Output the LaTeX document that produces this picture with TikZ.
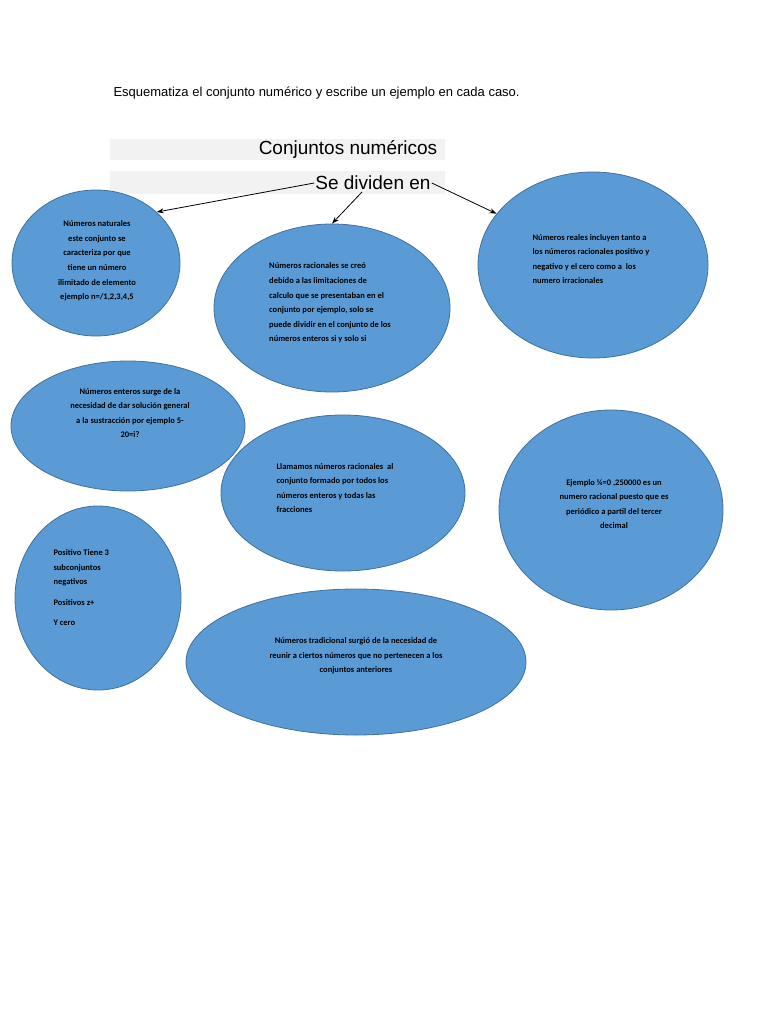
\documentclass[tikz,border=0pt]{standalone}
\usepackage{fontspec}
\setmainfont{Liberation Sans}
\newfontfamily\carfont{Carlito}
\usetikzlibrary{shapes.geometric,arrows.meta}
\definecolor{bub}{HTML}{5B9BD5}
\definecolor{bubd}{HTML}{41719C}
\definecolor{bar}{HTML}{F2F2F2}
\begin{document}
\begin{tikzpicture}[x=1pt,y=-1pt,
  bubble/.style={ellipse,fill=bub,draw=bubd,line width=0.8pt,inner sep=0pt},
  txt/.style={font=\carfont\bfseries\fontsize{8.5}{14.6}\selectfont,align=center},
  arr/.style={-{Stealth[length=7pt,width=5pt]},line width=0.8pt}]
\useasboundingbox (0,0) rectangle (768,1024);
\fill[bar] (110,139) rectangle (445,160);
\fill[bar] (110,171) rectangle (445,194);
\node[anchor=west,font=\fontsize{13}{15}\selectfont] (t) at (110,93) {Esquematiza el conjunto numérico y escribe un ejemplo en cada caso.};
\node[font=\fontsize{19}{21}\selectfont] (c) at (348,149) {Conjuntos numéricos};
\node[font=\fontsize{19}{21}\selectfont,inner sep=1pt] (s) at (373,183) {Se dividen en};

\node[bubble,minimum width=168pt,minimum height=146pt] (e1) at (96,263) {};
\node[bubble,minimum width=236pt,minimum height=168pt] (e2) at (332,308) {};
\node[bubble,minimum width=230pt,minimum height=186pt] (e3) at (593,265) {};
\node[bubble,minimum width=234pt,minimum height=130pt] (e4) at (128,426) {};
\node[bubble,minimum width=244pt,minimum height=156pt] (e5) at (343,493) {};
\node[bubble,minimum width=224pt,minimum height=200pt] (e6) at (611,510) {};
\node[bubble,minimum width=166pt,minimum height=184pt] (e7) at (98,598) {};
\node[bubble,minimum width=340pt,minimum height=146pt] (e8) at (356,662) {};

\node[txt] (t1) at (97,261) {Números naturales\\este conjunto se\\caracteriza por que\\tiene un número\\ilimitado de elemento\\ejemplo n=/1,2,3,4,5};
\node[txt,align=left] (t2) at (330,303) {Números racionales se creó\\debido a las limitaciones de\\calculo que se presentaban en el\\conjunto por ejemplo, solo se\\puede dividir en el conjunto de los\\números enteros si y solo si};
\node[txt,align=left] (t3) at (591,259) {Números reales incluyen tanto a\\los números racionales positivo y\\negativo y el cero como a\ \ los\\numero irracionales};
\node[txt] (t4) at (130,413) {Números enteros surge de la\\necesidad de dar solución general\\a la sustracción por ejemplo 5-\\20=i?};
\node[txt,align=left] (t5) at (335,488) {Llamamos números racionales\ \ al\\conjunto formado por todos los\\números enteros y todas las\\fracciones};
\node[txt] (t6) at (614,504) {Ejemplo ¼=0 ,250000 es un\\numero racional puesto que es\\periódico a partil del tercer\\decimal};
\node[txt,align=left,anchor=north west] (t7) at (50,546) {Positivo Tiene 3\\subconjuntos\\negativos\\[6pt]Positivos z+\\[6pt]Y cero};
\node[txt] (t8) at (356,656) {Números tradicional surgió de la necesidad de\\reunir a ciertos números que no pertenecen a los\\conjuntos anteriores};

\coordinate (s2) at (362,192);
\draw[arr] (s.west) -- (e1.40);
\draw[arr] (s2) -- (e2.north);
\draw[arr] (s.east) -- (e3.152);
\end{tikzpicture}
\end{document}
